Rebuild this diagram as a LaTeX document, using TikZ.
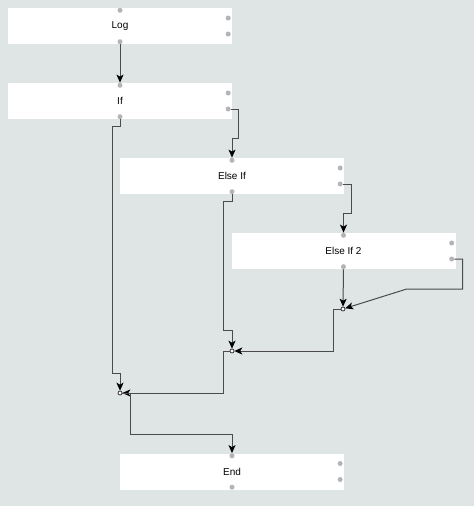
\documentclass[tikz,border=0pt]{standalone}
\usepackage{fontspec}
\setmainfont{Liberation Sans}
\usetikzlibrary{arrows.meta,positioning,calc}
\definecolor{bgrey}{RGB}{222,229,228}
\definecolor{pgrey}{RGB}{180,180,180}
\definecolor{lgrey}{RGB}{75,75,75}
\tikzset{
  blk/.style={fill=white,minimum width=224pt,minimum height=36pt,inner sep=0,font=\fontsize{10}{12}\selectfont},
  port/.style={circle,fill=pgrey,minimum size=5pt,inner sep=0},
  jn/.style={circle,draw=black,fill=white,minimum size=4pt,inner sep=0,line width=0.6pt},
  arr/.style={-{Stealth[length=8pt,width=7pt,inset=2pt,color=black]},draw=lgrey,line width=1pt}
}
\begin{document}
\begin{tikzpicture}[x=1pt,y=-1pt]
\fill[bgrey] (0,0) rectangle (474,506);
\useasboundingbox (0,0) rectangle (474,506);
\node[blk] (log) at (120,26) {Log};
\node[blk] (if) at (120,101) {If};
\node[blk] (elif) at (232,176) {Else If};
\node[blk] (elifb) at (343.5,251) {Else If 2};
\node[blk] (fin) at (232,471.5) {End};
\foreach \n in {log,if,elif,elifb,fin} {
  \node[port] (\n-t) at ($(\n.north)+(0,2.5)$) {};
  \node[port] (\n-b) at ($(\n.south)+(0,-2.5)$) {};
  \node[port] (\n-r1) at ($(\n.east)+(-4,-8)$) {};
  \node[port] (\n-r2) at ($(\n.east)+(-4,8)$) {};
}
\node[jn] (j1) at (343,309) {};
\node[jn] (j2) at (232,351) {};
\node[jn] (j3) at (120,393) {};
\draw[arr] (log-b) -- (if-t);
\draw[arr] (if-r2) -| ($(if-r2)+(10,29)$) -| (elif-t);
\draw[arr] (elif-r2) -| ($(elif-r2)+(11,29)$) -| (elifb-t);
\draw[arr] (if-b) |- ($(if-b)+(-8,10)$) |- ($(j3)+(0,-20)$) -- (j3);
\draw[arr] (elif-b) |- ($(elif-b)+(-9,10)$) |- ($(j2)+(0,-21)$) -- (j2);
\draw[arr] (elifb-b) -- (j1);
\draw[arr] (elifb-r2) -| ($(elifb-r2)+(11,30)$) -- ++(-56,0) -- (j1);
\draw[arr] (j1) -- ++(-10,0) |- (j2);
\draw[arr] (j2) -- ++(-9,0) |- (j3);
\draw[arr] (j3) -- ++(10,0) |- ($(fin-t)+(0,-21)$) -- (fin-t);
\end{tikzpicture}
\end{document}
